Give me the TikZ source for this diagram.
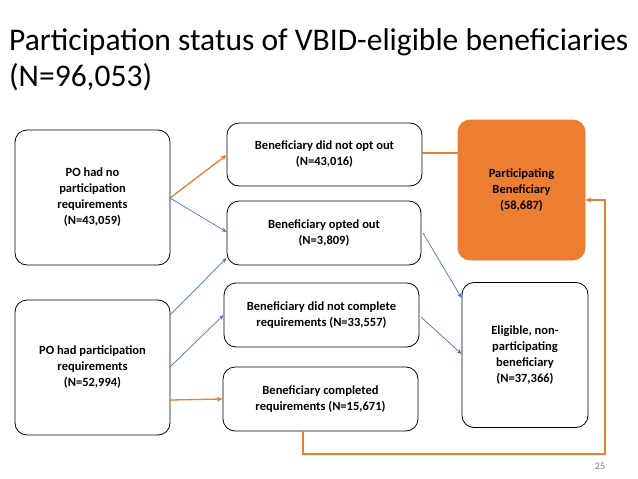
\documentclass[tikz,border=0pt]{standalone}
\usepackage{fontspec}
\setmainfont{Carlito}
\usetikzlibrary{arrows.meta}
\definecolor{orng}{HTML}{ED7D31}
\definecolor{blu}{HTML}{4472C4}
\begin{document}
\begin{tikzpicture}[x=1pt,y=-1pt,
  bx/.style={draw=black,line width=0.8pt,rounded corners=12pt,align=center,font=\bfseries\fontsize{12.5}{16}\selectfont},
  ol/.style={draw=orng,line width=1.3pt},
  bl/.style={draw=blu,line width=0.7pt,-{Stealth[length=5pt,width=4pt]}},
  oa/.style={ol,-{Stealth[length=6pt,width=5pt]}}]
\useasboundingbox (0,0) rectangle (638,479);
\node[anchor=north west,align=left,font=\fontsize{31.5}{36}\selectfont,inner sep=0pt] (title) at (9,28) {Participation status of VBID-eligible beneficiaries\\(N=96,053)};
\node[bx,minimum width=155pt,minimum height=135pt] (A) at (92.5,197.5) {PO had no\\participation\\requirements\\(N=43,059)};
\node[bx,minimum width=155pt,minimum height=135pt] (B) at (92.5,367.5) {PO had participation\\requirements\\(N=52,994)};
\node[bx,minimum width=195pt,minimum height=63pt] (C1) at (324.5,154.5) {Beneficiary did not opt out\\(N=43,016)};
\node[bx,minimum width=194pt,minimum height=64pt] (C2) at (324,233) {Beneficiary opted out\\(N=3,809)};
\node[bx,minimum width=195pt,minimum height=64pt] (C3) at (321.5,315) {Beneficiary did not complete\\requirements (N=33,557)};
\node[bx,minimum width=195pt,minimum height=64pt] (C4) at (320.5,399) {Beneficiary completed\\requirements (N=15,671)};
\node[bx,draw=orng,fill=orng,minimum width=127pt,minimum height=140pt] (D1) at (521.5,190) {Participating\\Beneficiary\\(58,687)};
\node[bx,minimum width=126pt,minimum height=145pt] (D2) at (525,355) {Eligible, non-\\participating\\beneficiary\\(N=37,366)};
\node[font=\fontsize{10}{11}\selectfont,text=gray] (pg) at (600,466) {25};
\coordinate (a1) at (170,198);
\draw[oa] (a1) -- (C1.west |- 0,155);
\draw[bl] (a1) -- (C2.west |- 0,232);
\draw[bl] (170,315) -- (C2.west |- 0,258);
\draw[bl] (170,367) -- (C3.west |- 0,315);
\draw[oa] (170,400) -- (C4.west);
\draw[ol] (C1.east |- 0,153) -- (D1.west |- 0,153);
\draw[bl] (423,233) -- (D2.west |- 0,298);
\draw[bl] (421,317) -- (D2.west |- 0,354);
\coordinate (b1) at (303,454);
\coordinate (b2) at (605,454);
\coordinate (b3) at (605,200);
\draw[oa] (C4.south -| b1) -- (b1) -- (b2) -- (b3) -- (D1.east |- b3);
\end{tikzpicture}
\end{document}
